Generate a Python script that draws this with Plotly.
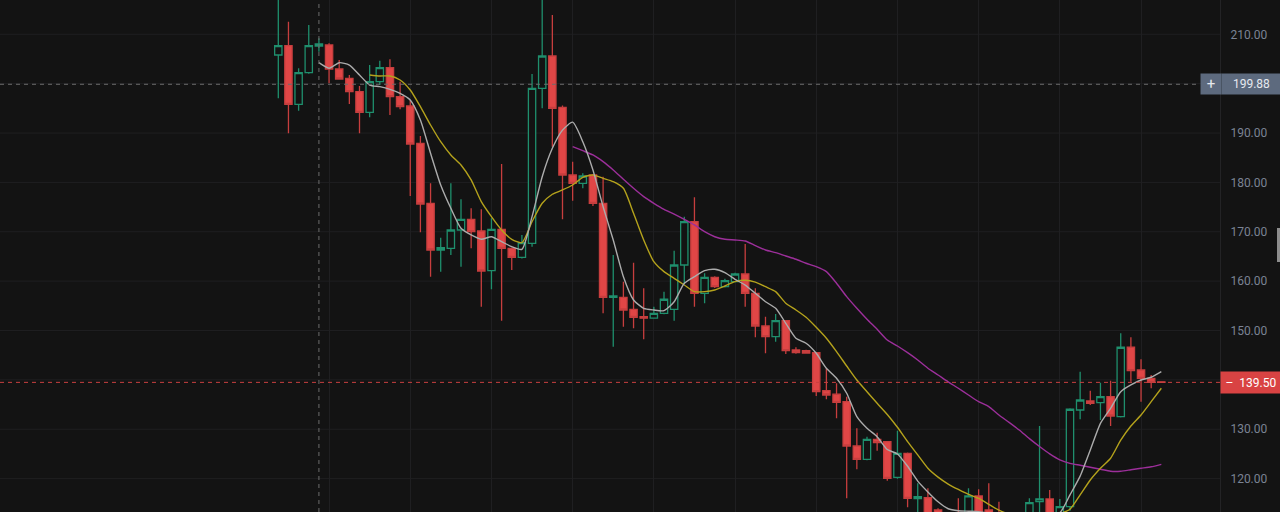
import plotly.graph_objects as go

# candle values, one entry per session
opens = [205.81, 207.69, 195.82, 202.23, 207.63, 207.84, 202.97, 201.08, 198.38, 194.20,
         200.40, 203.24, 197.36, 195.48, 187.92, 175.77, 166.31, 166.65, 170.36, 172.53,
         170.16, 162.12, 170.50, 166.65, 164.83, 167.67, 199.06, 205.61, 195.22, 181.50,
         179.82, 181.50, 175.77, 156.73, 156.73, 154.30, 152.80, 152.50, 153.49, 154.30,
         163.27, 172.05, 157.54, 160.78, 158.88, 159.89, 161.45, 157.54, 150.92, 148.75,
         151.99, 146.05, 145.90, 145.51, 137.81, 137.10, 135.59, 126.61, 123.91, 127.97,
         127.50, 120.27, 125.13, 115.94, 116.14, 113.65, 112.60, 113.00, 112.50, 116.49,
         113.65, 112.80, 111.50, 110.80, 112.50, 115.33, 115.88, 112.80, 114.32, 133.90,
         135.73, 135.39, 136.60, 132.55, 146.61, 142.00, 140.32, 139.60]
highs = [218.50, 212.56, 203.11, 211.89, 209.19, 208.20, 204.80, 201.76, 199.53, 203.78,
         204.66, 204.94, 200.40, 196.70, 189.40, 179.82, 168.80, 179.82, 176.58, 174.76,
         174.56, 172.73, 183.73, 166.80, 169.35, 201.96, 217.50, 213.91, 195.60, 184.20,
         181.85, 181.70, 181.16, 165.30, 159.89, 163.74, 158.55, 154.83, 157.87, 166.17,
         173.06, 176.99, 161.59, 161.00, 160.50, 161.70, 167.53, 158.55, 152.80, 153.35,
         152.10, 146.60, 146.10, 145.60, 142.35, 139.31, 136.60, 130.20, 128.50, 129.31,
         127.60, 129.71, 125.30, 119.06, 118.05, 114.00, 113.00, 116.02, 118.05, 117.84,
         119.06, 115.33, 112.50, 113.00, 116.02, 130.66, 117.70, 115.88, 134.25, 141.66,
         137.81, 139.44, 139.84, 149.44, 148.63, 144.17, 141.00, 139.70]
lows = [197.04, 189.95, 194.53, 202.00, 206.48, 200.07, 200.80, 195.88, 189.95, 193.19,
        199.73, 193.66, 194.81, 177.25, 169.90, 160.91, 161.92, 165.30, 162.93, 166.65,
        154.83, 158.35, 151.99, 162.26, 164.60, 166.98, 195.01, 187.24, 172.53, 176.30,
        178.81, 175.23, 153.49, 146.73, 150.78, 150.45, 148.22, 152.40, 153.30, 151.99,
        159.42, 154.83, 155.52, 158.60, 158.70, 159.80, 154.83, 148.63, 145.39, 147.74,
        145.25, 145.30, 145.30, 136.74, 136.07, 132.22, 116.02, 121.89, 123.70, 125.66,
        119.58, 120.00, 114.20, 112.00, 111.00, 111.00, 110.50, 110.00, 111.50, 112.00,
        110.50, 110.00, 109.50, 110.00, 111.00, 112.00, 111.50, 112.00, 113.50, 132.02,
        134.92, 131.88, 130.66, 132.40, 139.64, 135.59, 138.30, 139.40]
closes = [207.69, 195.82, 202.23, 207.69, 208.04, 202.97, 200.95, 198.38, 194.20, 200.40,
          203.24, 197.36, 195.34, 187.78, 175.63, 166.31, 166.80, 170.36, 172.53, 170.02,
          162.06, 170.50, 166.65, 164.83, 167.79, 199.06, 205.61, 195.01, 181.50, 179.82,
          181.30, 175.77, 156.73, 157.00, 154.16, 152.68, 152.50, 153.49, 156.33, 163.27,
          172.05, 157.54, 160.78, 158.88, 160.09, 161.45, 157.54, 150.92, 148.75, 151.99,
          145.92, 145.51, 145.45, 137.61, 136.94, 135.46, 126.61, 123.91, 127.97, 127.28,
          120.07, 125.13, 116.02, 116.35, 112.80, 112.50, 111.80, 111.50, 116.49, 113.00,
          112.00, 111.50, 110.80, 112.50, 115.13, 115.88, 112.80, 114.32, 134.05, 135.93,
          135.26, 136.60, 132.69, 146.61, 141.86, 140.32, 139.51, 139.50]

# moving average lines as drawn (they start later than the candles)
ma_fast = [204.25, 203.12, 204.25, 203.78, 201.76, 199.73, 199.39, 198.86, 198.05, 196.70,
           192.64, 185.90, 179.48, 174.76, 170.71, 169.35, 168.48, 169.00, 168.00, 166.98,
           166.45, 173.06, 181.16, 186.91, 190.60, 192.20, 188.25, 182.52, 175.08, 168.34,
           160.91, 156.19, 154.50, 154.16, 154.02, 155.84, 159.57, 160.91, 162.12, 162.40,
           161.72, 160.38, 159.20, 157.54, 155.84, 154.50, 151.46, 148.43, 147.42, 145.39,
           142.35, 140.33, 137.29, 132.55, 130.20, 128.50, 125.90, 125.00, 122.50, 119.50,
           117.30, 115.30, 113.90, 113.50, 113.40, 113.30, 113.00, 112.60, 112.20, 112.00,
           112.20, 112.60, 112.90, 113.10, 116.70, 120.50, 125.80, 131.20, 134.25, 137.61,
           138.97, 139.98, 140.53, 141.66]
ma_mid = [201.76, 201.56, 201.56, 200.75, 198.72, 195.34, 191.63, 188.25, 185.56, 183.53,
          180.50, 176.10, 173.06, 170.36, 168.48, 167.79, 172.05, 175.77, 177.60, 178.47,
          179.48, 181.03, 181.50, 180.83, 180.15, 178.81, 173.75, 168.34, 163.94, 161.92,
          160.58, 159.22, 157.87, 157.87, 158.21, 159.02, 159.89, 160.17, 159.80, 158.88,
          157.87, 155.52, 154.16, 152.68, 150.65, 148.43, 145.72, 142.82, 139.98, 137.61,
          135.26, 133.00, 130.40, 127.50, 124.80, 122.10, 120.30, 118.90, 117.80, 116.80,
          116.00, 114.80, 113.60, 112.80, 112.20, 112.00, 112.10, 112.40, 112.90, 113.80,
          116.70, 119.73, 122.10, 124.12, 127.80, 130.66, 132.89, 135.59, 138.30]
ma_slow = [187.24, 186.42, 185.56, 184.20, 182.52, 180.63, 178.81, 177.12, 175.77, 174.56,
           173.60, 172.53, 171.38, 170.02, 169.00, 168.48, 168.34, 168.14, 167.20, 166.31,
           165.77, 165.10, 164.43, 163.62, 162.93, 161.92, 159.57, 156.86, 154.50, 152.28,
           150.25, 148.08, 146.87, 145.51, 144.03, 142.35, 140.99, 139.60, 138.30, 136.94,
           135.60, 134.60, 132.90, 131.40, 129.85, 128.10, 126.50, 125.00, 123.80, 123.10,
           122.70, 122.30, 121.90, 121.50, 121.50, 121.80, 122.10, 122.40, 122.90]

# price axis labels that are not hidden behind the price boxes
price_ticks = [120, 130, 150, 160, 170, 180, 190, 210]
grid_prices = [120, 130, 140, 150, 160, 170, 180, 190, 200, 210]

last_price = 139.50
cursor_price = 199.88
cursor_bar = 4
grid_bars = [5, 13, 21, 29, 37, 45, 53, 61, 69, 77, 85]

BG = '#131313'
GRID = '#1f1f21'
UP = '#1f8f6d'
DOWN = '#e04646'
AXIS_TXT = '#7b8394'

bars = list(range(len(closes)))

def tail(values):
    return bars[len(bars) - len(values):]

fig = go.Figure()
fig.add_trace(go.Candlestick(
    x=bars, open=opens, high=highs, low=lows, close=closes,
    increasing=dict(line=dict(color=UP, width=1.3), fillcolor=BG),
    decreasing=dict(line=dict(color='#c73e3e', width=1.3), fillcolor=DOWN),
    hoverinfo='skip', showlegend=False,
))
for vals, col in [(ma_slow, '#9c2f9a'), (ma_mid, '#b4a21c'), (ma_fast, '#acacac')]:
    fig.add_trace(go.Scatter(
        x=tail(vals), y=vals, mode='lines',
        line=dict(color=col, width=1.4, shape='spline', smoothing=0.6),
        hoverinfo='skip', showlegend=False,
    ))

PLOT_W = 1220.0

def px(v):
    return v / PLOT_W

# horizontal grid drawn separately so the hidden labels keep their lines
for gp in grid_prices:
    fig.add_shape(type='line', xref='paper', yref='y', x0=0, x1=1, y0=gp, y1=gp,
                  line=dict(color=GRID, width=1), layer='below')

# crosshair
fig.add_shape(type='line', xref='x', yref='paper', x0=cursor_bar, x1=cursor_bar, y0=0, y1=1,
              line=dict(color='#6c6c6c', width=1, dash='4px,4px'))
fig.add_shape(type='line', xref='paper', yref='y', x0=0, x1=px(1200), y0=cursor_price, y1=cursor_price,
              line=dict(color='#6c6c6c', width=1, dash='4px,4px'))
# last price line
fig.add_shape(type='line', xref='paper', yref='y', x0=0, x1=1, y0=last_price, y1=last_price,
              line=dict(color='#c94040', width=1, dash='4px,4px'))

fig.add_annotation(xref='paper', yref='y', x=px(1200), y=cursor_price, xanchor='left', yanchor='middle',
                   text='+', showarrow=False, width=16, height=16, bgcolor='#5d6a7e', borderpad=2,
                   font=dict(color='#e6e9ee', size=15, family='Roboto'))
fig.add_annotation(xref='paper', yref='y', x=px(1221), y=cursor_price, xanchor='left', yanchor='middle',
                   text='199.88', showarrow=False, width=55, height=16, bgcolor='#5d6a7e', borderpad=2,
                   font=dict(color='#e6e9ee', size=12, family='Roboto'))
fig.add_annotation(xref='paper', yref='y', x=1.0, y=last_price, xanchor='left', yanchor='middle',
                   text='–  139.50', showarrow=False, width=56, height=17, bgcolor='#d94343', borderpad=2,
                   font=dict(color='#ffffff', size=12, family='Roboto'))
# little handle on the right edge
fig.add_shape(type='rect', xref='paper', yref='paper', x0=px(1277), x1=px(1281),
              y0=1 - 262 / 512, y1=1 - 228 / 512, fillcolor='#8d8d8d', line=dict(width=0))

fig.update_layout(
    width=1280, height=512,
    margin=dict(l=0, r=60, t=0, b=0),
    paper_bgcolor=BG, plot_bgcolor=BG,
    font=dict(family='Roboto', color=AXIS_TXT, size=12),
    xaxis=dict(range=[-27.42, 92.78], rangeslider=dict(visible=False), tickvals=grid_bars,
               showticklabels=False, showgrid=True, gridcolor=GRID, zeroline=False, fixedrange=True),
    yaxis=dict(range=[113.24, 216.95], side='right', tickvals=price_ticks, tickformat='.2f',
               showgrid=False, zeroline=False, showline=True, linecolor='#232325', ticks='',
               ticklabelstandoff=7, tickfont=dict(color=AXIS_TXT, size=12, family='Roboto')),
    boxgap=0.28, boxgroupgap=0,
)

fig.write_html("out.html", config={'displayModeBar': False},
               post_script="document.body.style.margin='0';")
